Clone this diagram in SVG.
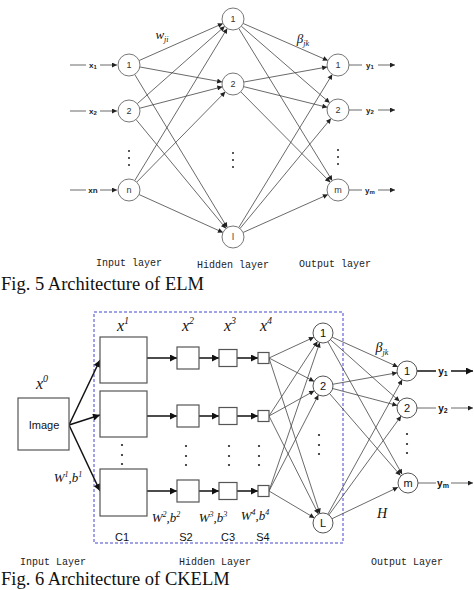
<svg xmlns="http://www.w3.org/2000/svg" width="474" height="590" viewBox="0 0 474 590">
<style>
.nd{fill:#fff;stroke:#777;stroke-width:1}
.ndl{fill:#fff;stroke:#555;stroke-width:1}
.e{stroke:#444;stroke-width:0.8;fill:none}
.eb{stroke:#111;stroke-width:1.5;fill:none}
.bx{fill:#fff;stroke:#555;stroke-width:1.2}
.t9{font-family:"Liberation Sans",Arial,sans-serif;font-size:9px;fill:#333;text-anchor:middle}
.t11{font-family:"Liberation Sans",Arial,sans-serif;font-size:11px;fill:#111;text-anchor:middle}
.io{font-family:"Liberation Sans",Arial,sans-serif;font-size:8px;font-weight:bold;fill:#222;text-anchor:middle}
.io2{font-family:"Liberation Sans",Arial,sans-serif;font-size:10px;font-weight:bold;fill:#111;text-anchor:middle}
.mono{font-family:"Liberation Mono","DejaVu Sans Mono",monospace;font-size:10px;fill:#222;text-anchor:middle}
.it{font-family:"Liberation Serif","Times New Roman",serif;font-style:italic;fill:#111;text-anchor:middle}
.cap{font-family:"Liberation Serif","Times New Roman",serif;font-size:18.5px;fill:#111}
.dot{fill:#222}
</style>
<defs>
<marker id="a" viewBox="0 0 10 10" refX="10" refY="5" markerWidth="6" markerHeight="5" markerUnits="userSpaceOnUse" orient="auto"><path d="M0,0L10,5L0,10z" fill="#222"/></marker>
<marker id="ab" viewBox="0 0 10 10" refX="10" refY="5" markerWidth="8" markerHeight="7" markerUnits="userSpaceOnUse" orient="auto"><path d="M0,0L10,5L0,10z" fill="#111"/></marker>
</defs>

<!-- ===== Fig 5 ELM ===== -->
<g id="elm-connectors">
<line class="e" x1="139.06" y1="60.55" x2="222.94" y2="23.45" marker-end="url(#a)"/>
<line class="e" x1="139.82" y1="66.98" x2="222.18" y2="82.02" marker-end="url(#a)"/>
<line class="e" x1="134.69" y1="74.41" x2="227.31" y2="227.59" marker-end="url(#a)"/>
<line class="e" x1="137.24" y1="103.71" x2="224.76" y2="26.29" marker-end="url(#a)"/>
<line class="e" x1="139.65" y1="108.24" x2="222.35" y2="86.76" marker-end="url(#a)"/>
<line class="e" x1="136.0" y1="119.48" x2="226.0" y2="228.52" marker-end="url(#a)"/>
<line class="e" x1="134.72" y1="180.6" x2="227.28" y2="28.4" marker-end="url(#a)"/>
<line class="e" x1="136.7" y1="182.15" x2="225.3" y2="91.85" marker-end="url(#a)"/>
<line class="e" x1="139.02" y1="194.53" x2="222.98" y2="232.47" marker-end="url(#a)"/>
<line class="e" x1="243.07" y1="23.41" x2="327.93" y2="60.59" marker-end="url(#a)"/>
<line class="e" x1="241.31" y1="26.2" x2="329.69" y2="102.8" marker-end="url(#a)"/>
<line class="e" x1="238.76" y1="28.37" x2="332.24" y2="180.63" marker-end="url(#a)"/>
<line class="e" x1="243.83" y1="82.04" x2="327.17" y2="66.96" marker-end="url(#a)"/>
<line class="e" x1="243.68" y1="86.64" x2="327.32" y2="107.36" marker-end="url(#a)"/>
<line class="e" x1="240.74" y1="91.82" x2="330.26" y2="182.18" marker-end="url(#a)"/>
<line class="e" x1="238.73" y1="227.61" x2="332.27" y2="74.39" marker-end="url(#a)"/>
<line class="e" x1="240.01" y1="228.52" x2="330.99" y2="118.48" marker-end="url(#a)"/>
<line class="e" x1="243.04" y1="232.51" x2="327.96" y2="194.49" marker-end="url(#a)"/>
<line class="e" x1="70" y1="65" x2="86" y2="65"/><line class="e" x1="100" y1="65" x2="117" y2="65" marker-end="url(#a)"/>
<line class="e" x1="70" y1="111" x2="86" y2="111"/><line class="e" x1="100" y1="111" x2="117" y2="111" marker-end="url(#a)"/>
<line class="e" x1="70" y1="190" x2="86" y2="190"/><line class="e" x1="100" y1="190" x2="117" y2="190" marker-end="url(#a)"/>
<line class="e" x1="349" y1="65" x2="362" y2="65"/><line class="e" x1="378" y1="65" x2="395" y2="65" marker-end="url(#a)"/>
<line class="e" x1="349" y1="110" x2="362" y2="110"/><line class="e" x1="378" y1="110" x2="395" y2="110" marker-end="url(#a)"/>
<line class="e" x1="349" y1="190" x2="362" y2="190"/><line class="e" x1="378" y1="190" x2="395" y2="190" marker-end="url(#a)"/>
</g>
<text class="io" x="93" y="68">x<tspan font-size="6" dy="1">1</tspan></text>
<text class="io" x="93" y="114">x<tspan font-size="6" dy="1">2</tspan></text>
<text class="io" x="93" y="193">xn</text>
<text class="io" x="370" y="68">y<tspan font-size="6" dy="1">1</tspan></text>
<text class="io" x="370" y="113">y<tspan font-size="6" dy="1">2</tspan></text>
<text class="io" x="370" y="193">y<tspan font-size="6" dy="1">m</tspan></text>

<g id="in1"><circle class="nd" cx="129" cy="65" r="11"/><text class="t9" x="129" y="68">1</text></g>
<g id="in2"><circle class="nd" cx="129" cy="111" r="11"/><text class="t9" x="129" y="114">2</text></g>
<g id="inn"><circle class="nd" cx="129" cy="190" r="11"/><text class="t9" x="129" y="193">n</text></g>
<g id="hid1"><circle class="nd" cx="233" cy="19" r="11"/><text class="t9" x="233" y="22">1</text></g>
<g id="hid2"><circle class="nd" cx="233" cy="84" r="11"/><text class="t9" x="233" y="87">2</text></g>
<g id="hidl"><circle class="nd" cx="233" cy="237" r="11"/><text class="t9" x="233" y="240">l</text></g>
<g id="out1"><circle class="nd" cx="338" cy="65" r="11"/><text class="t9" x="338" y="68">1</text></g>
<g id="out2"><circle class="nd" cx="338" cy="110" r="11"/><text class="t9" x="338" y="113">2</text></g>
<g id="outm"><circle class="nd" cx="338" cy="190" r="11"/><text class="t9" x="338" y="193">m</text></g>

<g id="elm-dots">
<circle class="dot" cx="129" cy="151" r="1"/><circle class="dot" cx="129" cy="158" r="1"/><circle class="dot" cx="129" cy="165" r="1"/>
<circle class="dot" cx="233" cy="153" r="1"/><circle class="dot" cx="233" cy="160" r="1"/><circle class="dot" cx="233" cy="167" r="1"/>
<circle class="dot" cx="338" cy="150" r="1"/><circle class="dot" cx="338" cy="157" r="1"/><circle class="dot" cx="338" cy="164" r="1"/>
</g>
<text class="it" x="162" y="39" font-size="13">w<tspan font-size="8" dy="3">ji</tspan></text>
<text class="it" x="303" y="43" font-size="13">β<tspan font-size="8" dy="3">jk</tspan></text>
<text class="mono" x="129" y="266">Input layer</text>
<text class="mono" x="233" y="268">Hidden layer</text>
<text class="mono" x="335" y="267">Output layer</text>
<text class="cap" x="1" y="290">Fig. 5 Architecture of ELM</text>

<!-- ===== Fig 6 CKELM ===== -->
<rect x="94" y="312" width="249" height="231" fill="none" stroke="#4444cc" stroke-width="1" stroke-dasharray="3,2"/>

<g id="ck-connectors">
<line class="eb" x1="69" y1="425" x2="100" y2="360" marker-end="url(#ab)"/>
<line class="eb" x1="69" y1="425" x2="100" y2="415" marker-end="url(#ab)"/>
<line class="eb" x1="69" y1="425" x2="100" y2="491" marker-end="url(#ab)"/>
<line class="eb" x1="147" y1="358" x2="177" y2="358" marker-end="url(#ab)"/>
<line class="eb" x1="199" y1="358" x2="219" y2="358" marker-end="url(#ab)"/>
<line class="eb" x1="237" y1="358" x2="258" y2="358" marker-end="url(#ab)"/>
<line class="eb" x1="147" y1="416" x2="177" y2="416" marker-end="url(#ab)"/>
<line class="eb" x1="199" y1="416" x2="219" y2="416" marker-end="url(#ab)"/>
<line class="eb" x1="237" y1="416" x2="258" y2="416" marker-end="url(#ab)"/>
<line class="eb" x1="147" y1="491" x2="177" y2="491" marker-end="url(#ab)"/>
<line class="eb" x1="199" y1="491" x2="219" y2="491" marker-end="url(#ab)"/>
<line class="eb" x1="237" y1="491" x2="258" y2="491" marker-end="url(#ab)"/>
<line class="e" x1="269" y1="358" x2="313.93" y2="337.2" marker-end="url(#a)"/>
<line class="e" x1="269" y1="358" x2="314.12" y2="381.4" marker-end="url(#a)"/>
<line class="e" x1="269" y1="358" x2="319.89" y2="513.5" marker-end="url(#a)"/>
<line class="e" x1="269" y1="416" x2="317.55" y2="341.38" marker-end="url(#a)"/>
<line class="e" x1="269" y1="416" x2="314.26" y2="390.86" marker-end="url(#a)"/>
<line class="e" x1="269" y1="416" x2="318.49" y2="514.07" marker-end="url(#a)"/>
<line class="e" x1="269" y1="491" x2="319.77" y2="342.46" marker-end="url(#a)"/>
<line class="e" x1="269" y1="491" x2="318.43" y2="394.89" marker-end="url(#a)"/>
<line class="e" x1="269" y1="491" x2="314.4" y2="517.9" marker-end="url(#a)"/>
<line class="e" x1="332.11" y1="337.12" x2="397.89" y2="366.88" marker-end="url(#a)"/>
<line class="e" x1="330.46" y1="339.66" x2="399.54" y2="401.34" marker-end="url(#a)"/>
<line class="e" x1="327.89" y1="341.73" x2="402.11" y2="474.27" marker-end="url(#a)"/>
<line class="e" x1="332.84" y1="384.24" x2="397.16" y2="372.76" marker-end="url(#a)"/>
<line class="e" x1="332.67" y1="388.53" x2="397.33" y2="405.47" marker-end="url(#a)"/>
<line class="e" x1="329.55" y1="393.56" x2="400.45" y2="475.44" marker-end="url(#a)"/>
<line class="e" x1="327.84" y1="514.25" x2="402.16" y2="379.75" marker-end="url(#a)"/>
<line class="e" x1="328.9" y1="514.93" x2="401.1" y2="416.07" marker-end="url(#a)"/>
<line class="e" x1="332.03" y1="518.7" x2="397.97" y2="487.3" marker-end="url(#a)"/>
<line class="eb" x1="417" y1="371" x2="436" y2="371"/><line class="eb" x1="451" y1="371" x2="473" y2="371" marker-end="url(#ab)"/>
<line class="e" x1="417" y1="408" x2="436" y2="408"/><line class="e" x1="451" y1="408" x2="473" y2="408" marker-end="url(#a)"/>
<line class="e" x1="418" y1="483" x2="436" y2="483"/><line class="e" x1="451" y1="483" x2="473" y2="483" marker-end="url(#a)"/>
</g>
<text class="io2" x="443" y="375">y<tspan font-size="7" dy="1">1</tspan></text>
<text class="io2" x="443" y="412">y<tspan font-size="7" dy="1">2</tspan></text>
<text class="io2" x="443" y="487">y<tspan font-size="7" dy="1">m</tspan></text>

<g id="image"><rect class="bx" x="18" y="398" width="51" height="52"/><text class="t11" x="44" y="429" font-size="12">Image</text></g>
<g id="c1-1"><rect class="bx" x="100" y="337" width="47" height="46"/></g>
<g id="c1-2"><rect class="bx" x="100" y="391" width="47" height="46"/></g>
<g id="c1-3"><rect class="bx" x="100" y="469" width="47" height="47"/></g>
<g id="s2-1"><rect class="bx" x="177" y="347" width="22" height="22"/></g>
<g id="s2-2"><rect class="bx" x="177" y="405" width="22" height="22"/></g>
<g id="s2-3"><rect class="bx" x="177" y="480" width="22" height="22"/></g>
<g id="c3-1"><rect class="bx" x="219" y="349.5" width="18" height="17"/></g>
<g id="c3-2"><rect class="bx" x="219" y="407.5" width="18" height="17"/></g>
<g id="c3-3"><rect class="bx" x="219" y="482.5" width="18" height="17"/></g>
<g id="s4-1"><rect class="bx" x="258" y="352.5" width="11" height="11"/></g>
<g id="s4-2"><rect class="bx" x="258" y="410.5" width="11" height="11"/></g>
<g id="s4-3"><rect class="bx" x="258" y="485.5" width="11" height="11"/></g>

<g id="h1"><circle class="ndl" cx="323" cy="333" r="10"/><text class="t11" x="323" y="337">1</text></g>
<g id="h2"><circle class="ndl" cx="323" cy="386" r="10"/><text class="t11" x="323" y="390">2</text></g>
<g id="hL"><circle class="ndl" cx="323" cy="523" r="10"/><text class="t11" x="323" y="527">L</text></g>
<g id="o1"><circle class="ndl" cx="407" cy="371" r="10"/><text class="t11" x="407" y="375">1</text></g>
<g id="o2"><circle class="ndl" cx="407" cy="408" r="10"/><text class="t11" x="407" y="412">2</text></g>
<g id="om"><circle class="ndl" cx="408" cy="483" r="10"/><text class="t11" x="408" y="487">m</text></g>

<g id="ck-dots">
<circle class="dot" cx="122" cy="445" r="1.1"/><circle class="dot" cx="122" cy="455" r="1.1"/><circle class="dot" cx="122" cy="464" r="1.1"/>
<circle class="dot" cx="186" cy="446" r="1.1"/><circle class="dot" cx="186" cy="456" r="1.1"/><circle class="dot" cx="186" cy="465" r="1.1"/>
<circle class="dot" cx="229" cy="446" r="1.1"/><circle class="dot" cx="229" cy="456" r="1.1"/><circle class="dot" cx="229" cy="465" r="1.1"/>
<circle class="dot" cx="259" cy="446" r="1.1"/><circle class="dot" cx="259" cy="456" r="1.1"/><circle class="dot" cx="259" cy="465" r="1.1"/>
<circle class="dot" cx="319" cy="435" r="1.1"/><circle class="dot" cx="319" cy="445" r="1.1"/><circle class="dot" cx="319" cy="454" r="1.1"/>
<circle class="dot" cx="407" cy="434" r="1.1"/><circle class="dot" cx="407" cy="444" r="1.1"/><circle class="dot" cx="407" cy="453" r="1.1"/>
</g>

<text class="it" x="42" y="389" font-size="16">x<tspan font-size="10" dy="-7">0</tspan></text>
<text class="it" x="123" y="331" font-size="16">x<tspan font-size="10" dy="-7">1</tspan></text>
<text class="it" x="188" y="331" font-size="16">x<tspan font-size="10" dy="-7">2</tspan></text>
<text class="it" x="230" y="331" font-size="16">x<tspan font-size="10" dy="-7">3</tspan></text>
<text class="it" x="266" y="331" font-size="16">x<tspan font-size="10" dy="-7">4</tspan></text>
<text class="it" x="68" y="482" font-size="13">W<tspan font-size="8" dy="-5">1</tspan><tspan dy="5">,b</tspan><tspan font-size="8" dy="-5">1</tspan></text>
<text class="it" x="166" y="522" font-size="13">W<tspan font-size="8" dy="-5">2</tspan><tspan dy="5">,b</tspan><tspan font-size="8" dy="-5">2</tspan></text>
<text class="it" x="213" y="522" font-size="13">W<tspan font-size="8" dy="-5">3</tspan><tspan dy="5">,b</tspan><tspan font-size="8" dy="-5">3</tspan></text>
<text class="it" x="255" y="520" font-size="13">W<tspan font-size="8" dy="-5">4</tspan><tspan dy="5">,b</tspan><tspan font-size="8" dy="-5">4</tspan></text>
<text class="it" x="382" y="352" font-size="14">β<tspan font-size="8" dy="3">jk</tspan></text>
<text class="it" x="382" y="518" font-size="14">H</text>
<text class="t11" x="122" y="541">C1</text>
<text class="t11" x="186" y="541">S2</text>
<text class="t11" x="228" y="541">C3</text>
<text class="t11" x="263" y="541">S4</text>
<text class="mono" x="53" y="565">Input Layer</text>
<text class="mono" x="215" y="565">Hidden Layer</text>
<text class="mono" x="407" y="565">Output Layer</text>
<text class="cap" x="1" y="585">Fig. 6 Architecture of CKELM</text>
</svg>
